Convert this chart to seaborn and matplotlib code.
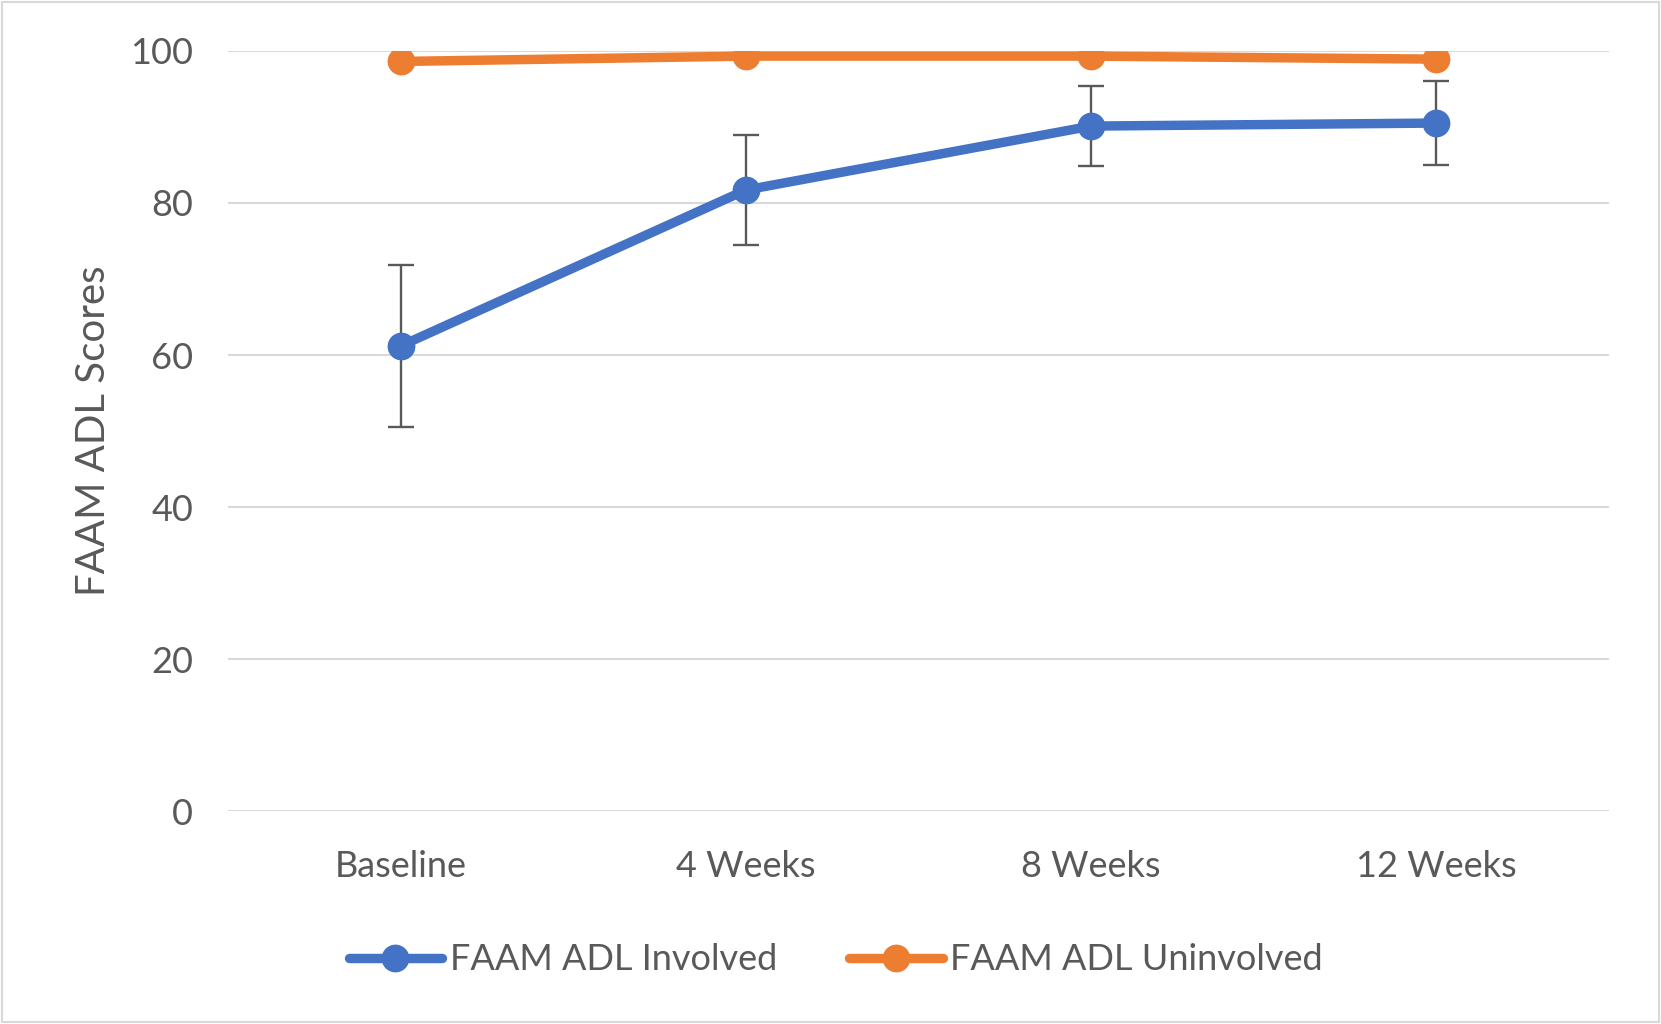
import matplotlib
matplotlib.use("Agg")
import matplotlib.pyplot as plt
import seaborn as sns
import pandas as pd
import numpy as np
from matplotlib.patches import Rectangle

timepoints = ["Baseline", "4 Weeks", "8 Weeks", "12 Weeks"]
involved = [61.2, 81.7, 90.1, 90.5]
involved_sd = [10.7, 7.2, 5.3, 5.5]
uninvolved = [98.6, 99.3, 99.3, 98.9]
series_names = ["FAAM ADL Involved", "FAAM ADL Uninvolved"]
colors = ["#4472C4", "#ED7D31"]
yticks = [0, 20, 40, 60, 80, 100]

sns.set_theme(style="white")
plt.rcParams['font.family'] = ['Lato', 'DejaVu Sans']

df = pd.DataFrame({
    "Time": timepoints * 2,
    "Score": involved + uninvolved,
    "Series": [series_names[0]] * 4 + [series_names[1]] * 4,
})

fig = plt.figure(figsize=(16.61, 10.24), dpi=100)
ax = fig.add_axes([0.1373, 0.2076, 0.8314, 0.7428])

xpos = np.arange(len(timepoints))
ax.errorbar(xpos, involved, yerr=involved_sd, fmt="none", ecolor="#595959",
            elinewidth=1.7, capsize=9.5, capthick=1.7, zorder=2)

sns.lineplot(data=df, x="Time", y="Score", hue="Series", palette=colors,
             marker="o", markersize=20, markeredgewidth=0, linewidth=6.8,
             sort=False, ax=ax, zorder=3)

ax.set_ylim(0, 100)
ax.set_xlim(-0.5, 3.5)
ax.set_yticks(yticks)
ax.yaxis.grid(True, color="#D9D9D9", linewidth=1.5)
ax.set_axisbelow(True)
for s in ax.spines.values():
    s.set_visible(False)
ax.tick_params(axis="both", length=0, labelsize=26, labelcolor="#595959")
ax.tick_params(axis="y", pad=25)
ax.tick_params(axis="x", pad=28)
ax.set_xlabel("")
ax.set_ylabel("FAAM ADL Scores", fontsize=29, color="#595959", labelpad=13)

handles, labels = ax.get_legend_handles_labels()
leg = ax.legend(handles, labels, loc="center", bbox_to_anchor=(0.44, -0.195),
                ncol=2, frameon=False, fontsize=26, labelcolor="#595959",
                handlelength=2.6, handletextpad=0.2, columnspacing=2.0)

fig.patches.append(Rectangle((0.0015, 0.0015), 0.997, 0.997, transform=fig.transFigure,
                             fill=False, edgecolor="#D9D9D9", linewidth=1.5))

fig.savefig("out.png", dpi=100)
